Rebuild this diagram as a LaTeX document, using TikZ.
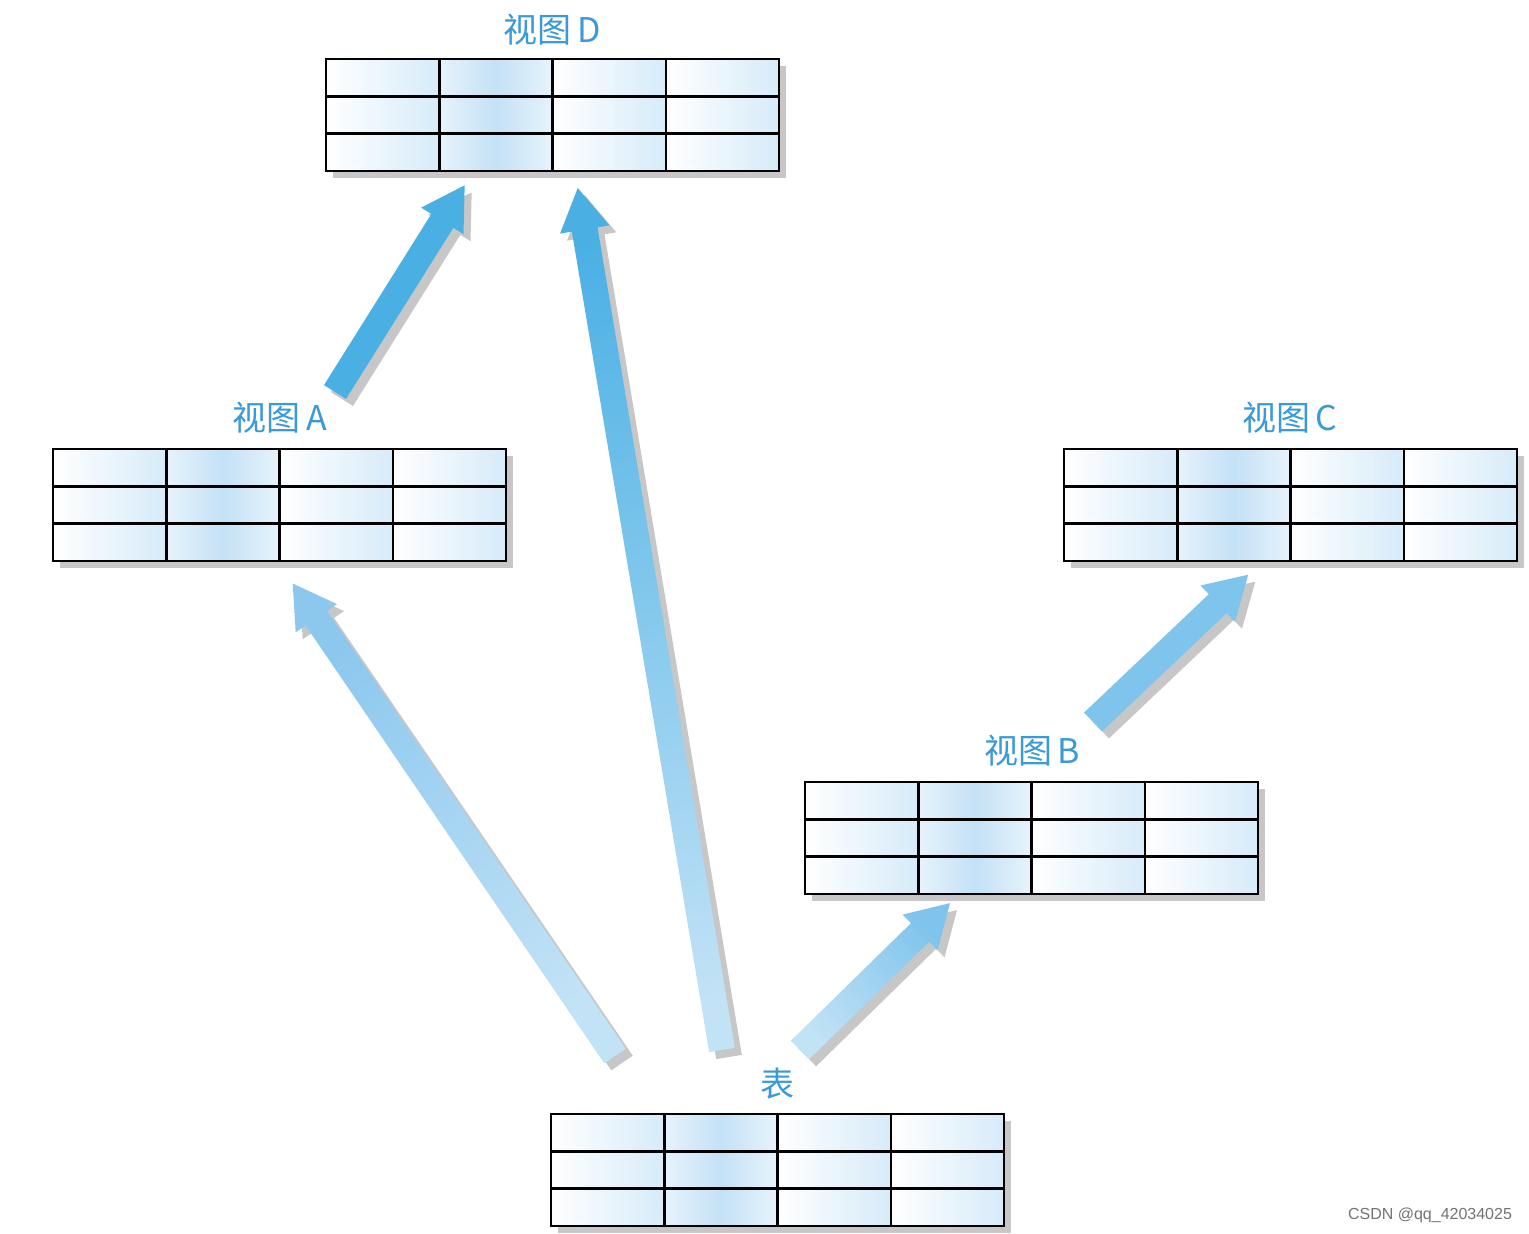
\documentclass[tikz,border=0pt]{standalone}
\usepackage{fontspec}
\usetikzlibrary{calc}
\newfontfamily\cjk{Noto Sans CJK SC}
\newfontfamily\lsans{Liberation Sans}
\definecolor{lbl}{HTML}{3A9AD9}
\definecolor{cellb}{HTML}{D6EBF9}
\definecolor{cellm}{HTML}{C4E1F6}
\definecolor{aDark}{HTML}{4AB0E4}
\definecolor{aMid}{HTML}{7FC4EC}
\definecolor{aLight}{HTML}{C2E2F6}
\definecolor{aTA}{HTML}{8CC8EE}
\tikzset{
  lab/.style={font=\cjk\fontsize{17}{20}\selectfont, text=lbl, inner sep=0pt},
}
\newcommand{\mytbl}[3]{%
  \fill[black!22] (#2+7,#3+7) rectangle (#2+460,#3+119);
  \foreach \r in {0,1,2}{
    \foreach \c in {0,2,3}{
      \shade[left color=white, right color=cellb] (#2+\c*113.3,#3+\r*37.3) rectangle (#2+\c*113.3+113.3,#3+\r*37.3+37.3);
    }
    \shade[left color=cellb!60, right color=cellb!60, middle color=cellm] (#2+113.3,#3+\r*37.3) rectangle (#2+226.6,#3+\r*37.3+37.3);
  }
  \draw[line width=1.2pt] (#2,#3) rectangle (#2+453,#3+112);
  \foreach \c in {1,2,3} \draw[line width=1.2pt] (#2+\c*113.3,#3) -- (#2+\c*113.3,#3+112);
  \foreach \r in {1,2} \draw[line width=1.2pt] (#2,#3+\r*37.3) -- (#2+453,#3+\r*37.3);
  \coordinate (#1) at (#2+226.5,#3+56);
}
\newcommand{\blk}[5]{%
  \begin{scope}[shift={($(#1)+(7,7)$)}, rotate=#2]
    \fill[black!22] (0,-13) -- (#3-42,-13) -- (#3-42,-25) -- (#3,0) -- (#3-42,25) -- (#3-42,13) -- (0,13) -- cycle;
  \end{scope}
  \pgfmathsetmacro{\shang}{#2-90}
  \begin{scope}[shift={(#1)}, rotate=#2]
    \shade[bottom color=#4, top color=#5, shading angle=\shang] (0,-13) -- (#3-42,-13) -- (#3-42,-25) -- (#3,0) -- (#3-42,25) -- (#3-42,13) -- (0,13) -- cycle;
  \end{scope}
}
\begin{document}
\begin{tikzpicture}[x=0.5pt,y=-0.5pt]
\useasboundingbox (0,0) rectangle (1529,1233);
\fill[white] (0,0) rectangle (1529,1233);
\coordinate (tAD) at (335,392);
\coordinate (tTD) at (722,1050);
\coordinate (tTA) at (615,1056);
\coordinate (tTB) at (800,1050);
\coordinate (tBC) at (1093,722);
\blk{tTA}{124.3}{572}{aLight}{aTA}
\blk{tTD}{99.5}{874}{aLight}{aDark}
\blk{tTB}{44.4}{210}{aLight}{aMid}
\blk{tBC}{43.5}{214}{aMid}{aMid}
\blk{tAD}{57.9}{244}{aDark}{aDark}
\mytbl{D}{326}{59}
\mytbl{A}{53}{449}
\mytbl{C}{1064}{449}
\mytbl{B}{805}{782}
\mytbl{T}{551}{1114}
\node[lab] (lD) at (552,30) {视图\,D};
\node[lab] (lA) at (280,418) {视图\,A};
\node[lab] (lC) at (1290,418) {视图\,C};
\node[lab] (lB) at (1032,751) {视图\,B};
\node[lab] (lT) at (777,1084) {表};
\node[font=\lsans\fontsize{8}{10}\selectfont, text=black!55, inner sep=0pt] (wm) at (1430,1215) {CSDN @qq\_42034025};
\end{tikzpicture}
\end{document}
